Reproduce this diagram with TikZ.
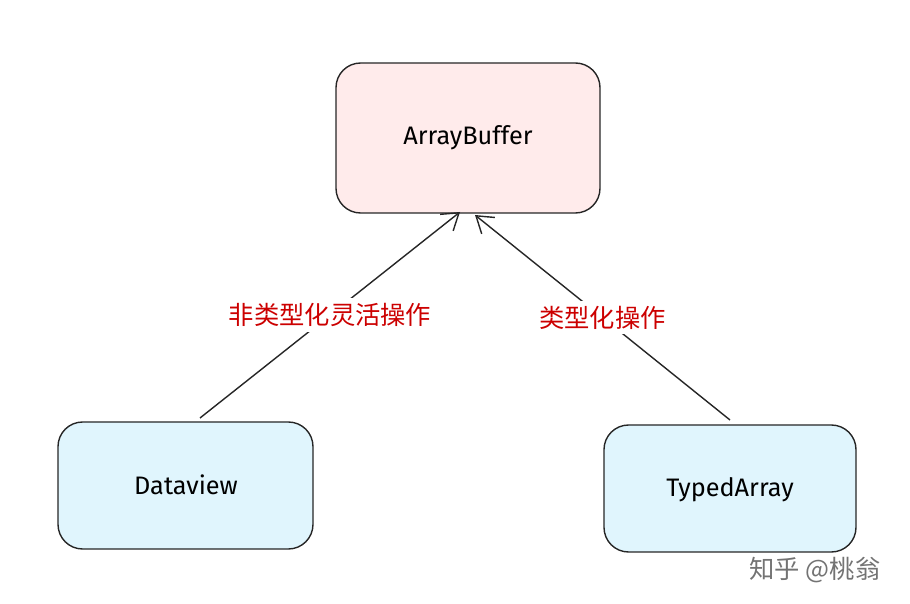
\documentclass[tikz,border=0pt]{standalone}
\usepackage{fontspec}
\newfontfamily\cjk{Noto Sans CJK SC}
\setmainfont{Fira Sans}
\usetikzlibrary{arrows.meta,patterns}
\begin{document}
\begin{tikzpicture}[x=0.02cm,y=-0.02cm,
  box/.style={draw=black!85,thick,rounded corners=14pt},
  conn/.style={draw=black!85,thick,-{Straight Barb[length=9pt,width=12pt]}},
  lbl/.style={fill=white,text=red!80!black,font=\cjk\Large,inner sep=3pt}]

  \useasboundingbox (0,0) rectangle (910,604);

  % boxes
  \filldraw[box,fill=red!8] (336,63) rectangle (600,213);
  \filldraw[box,fill=cyan!12] (58,422) rectangle (313,549);
  \filldraw[box,fill=cyan!12] (604,425) rectangle (856,552);
  \node (buf) at (468,138) {\Large ArrayBuffer};
  \node (dv) at (186,485) {\Large Dataview};
  \node (ta) at (730,490) {\Large TypedArray};

  \coordinate (dvtop) at (200,418);
  \coordinate (tatop) at (730,420);
  \coordinate (bufl) at (460,212);
  \coordinate (bufr) at (475,215);

  \draw[conn] (dvtop) -- node[lbl] (l1) {非类型化灵活操作} (bufl);
  \draw[conn] (tatop) -- node[lbl] (l2) {类型化操作} (bufr);

  \node[text=black!55,font=\cjk\Large] (wm) at (815,570) {知乎 @桃翁};
\end{tikzpicture}
\end{document}
